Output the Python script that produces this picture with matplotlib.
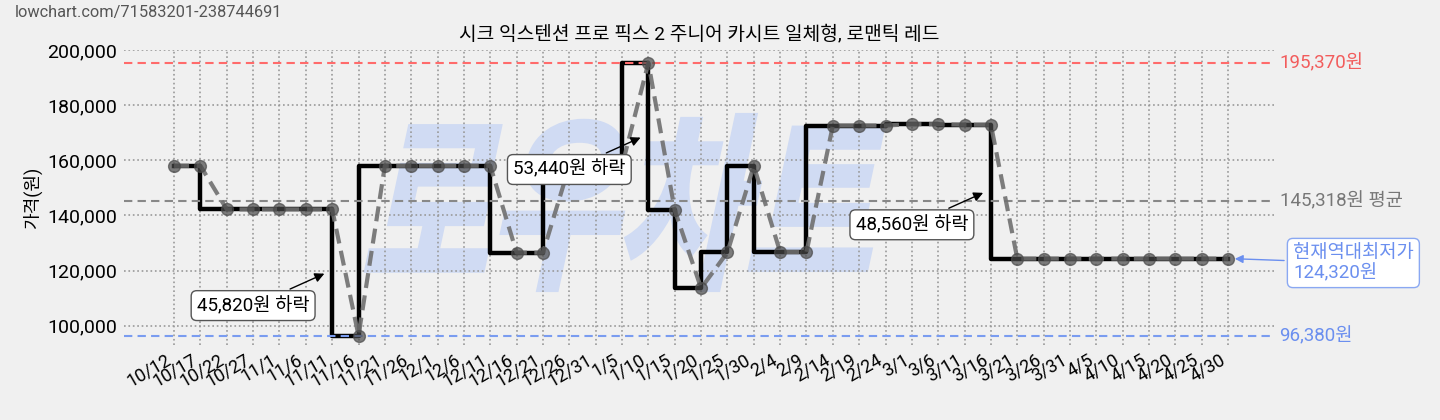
import matplotlib
matplotlib.use("Agg")
import matplotlib.pyplot as plt
import numpy as np
from matplotlib.textpath import TextPath
from matplotlib.patches import PathPatch
from matplotlib.font_manager import FontProperties
from matplotlib.transforms import Affine2D, IdentityTransform

plt.rcParams['font.family'] = ['Roboto', 'Noto Sans CJK KR', 'DejaVu Sans']

# Data
dates = ["10/12", "10/17", "10/22", "10/27", "11/1", "11/6", "11/11", "11/16", "11/21", "11/26",
         "12/1", "12/6", "12/11", "12/16", "12/21", "12/26", "12/31", "1/5", "1/10", "1/15",
         "1/20", "1/25", "1/30", "2/4", "2/9", "2/14", "2/19", "2/24", "3/1", "3/6",
         "3/11", "3/16", "3/21", "3/26", "3/31", "4/5", "4/10", "4/15", "4/20", "4/25", "4/30"]
prices = [158000, 158000, 142200, 142200, 142200, 142200, 142200, 96380, 158000, 158000,
          158000, 158000, 158000, 126500, 126500, 158000, 158000, 158000, 195370, 141930,
          113600, 126600, 158000, 126700, 126700, 172600, 172600, 172600, 173100, 173100,
          172900, 172880, 124320, 124320, 124320, 124320, 124320, 124320, 124320, 124320, 124320]
max_price = 195370
min_price = 96380
avg_price = 145318
cur_price = 124320
drops = [(6, 45820), (18, 53440), (31, 48560)]  # index of drop start, amount

x = np.arange(len(dates))

fig = plt.figure(figsize=(14.4, 4.2), dpi=100, facecolor="#f0f0f0")
ax = fig.add_axes([124/1440, 75/420, 1151/1440, 295/420])
ax.set_facecolor("#f0f0f0")

# watermark (slanted logo text, drawn in figure pixels)
tp = TextPath((0, 0), "로우차트", size=100,
              prop=FontProperties(family="Noto Sans CJK KR", weight="heavy"))
ext = tp.get_extents()
wm_tr = (Affine2D().translate(-ext.x0, -ext.y0)
         .scale(500 / ext.width, 175 / ext.height)
         .skew_deg(12, 0)
         .translate(362, 130))
ax.add_patch(PathPatch(wm_tr.transform_path(tp), transform=IdentityTransform(),
                       fc="#d0dbf3", ec="#d0dbf3", lw=3, zorder=0, clip_on=False))

# price lines
ax.plot(x, prices, drawstyle="steps-pre", color="black", lw=3.2, zorder=2)
ax.plot(x, prices, color="#707070", lw=3, linestyle=(0, (3.6, 1.8)), alpha=0.9, zorder=4)
ax.plot(x, prices, "o", color="#4a4a4a", ms=8.5, alpha=0.7, zorder=5)

# reference lines
ax.axhline(max_price, color="#ff6b6b", lw=1.5, ls=(0, (4, 2.5)), zorder=3)
ax.axhline(avg_price, color="#888888", lw=1.5, ls=(0, (4, 2.5)), zorder=3)
ax.axhline(min_price, color="#7a9cf0", lw=1.5, ls=(0, (4, 2.5)), zorder=3)

trans = ax.get_yaxis_transform()
ax.text(1.004, max_price, f"{max_price:,}원", transform=trans, color="#f25c5c",
        fontsize=13.5, va="center")
ax.text(1.004, avg_price, f"{avg_price:,}원 평균", transform=trans, color="#777777",
        fontsize=13.5, va="center")
ax.text(1.004, min_price, f"{min_price:,}원", transform=trans, color="#6b8fef",
        fontsize=13.5, va="center")

# drop annotations
for i, amt in drops:
    mid = (prices[i] + prices[i + 1]) / 2
    ax.annotate(f"{amt:,}원 하락", xy=(i - 0.2, mid), xytext=(i - 3.0, mid - 12000),
                fontsize=13.5, ha="center", va="center", zorder=6,
                bbox=dict(boxstyle="round,pad=0.3", fc="white", ec="#555555", lw=1),
                arrowprops=dict(arrowstyle="-|>", color="black", lw=1, mutation_scale=14))

# current lowest
ax.annotate(f"현재역대최저가\n{cur_price:,}원", xy=(len(x) - 1 + 0.15, cur_price),
            xytext=(1293, 420 - 263), textcoords="figure pixels",
            fontsize=13.5, color="#6b8fef", ha="left", va="center", zorder=6,
            annotation_clip=False, linespacing=1.1,
            bbox=dict(boxstyle="round,pad=0.3", fc="white", ec="#8aa8f2", lw=1),
            arrowprops=dict(arrowstyle="-|>", color="#6b8fef", lw=1, mutation_scale=12))

ax.set_xlim(-1.9, 41.78)
ax.set_ylim(93000, 200000)
ax.set_xticks(x)
ax.set_xticklabels(dates, rotation=30, ha="right", fontsize=13)
ax.set_yticks(range(100000, 200001, 20000))
ax.yaxis.set_major_formatter(matplotlib.ticker.FuncFormatter(lambda v, p: f"{int(v):,}"))
ax.tick_params(axis="y", labelsize=14, length=0, pad=5)
ax.tick_params(axis="x", length=0, pad=4)
ax.grid(True, color="#999999", ls=":", lw=1.2)
for s in ax.spines.values():
    s.set_visible(False)

ax.set_ylabel("가격(원)", fontsize=13)
ax.set_title("시크 익스텐션 프로 픽스 2 주니어 카시트 일체형, 로맨틱 레드", fontsize=13.8, pad=8)
fig.text(15/1440, 1 - 12/420, "lowchart.com/71583201-238744691", fontsize=11.8,
         color="#555555", va="center")

plt.savefig("out.png", dpi=100, facecolor=fig.get_facecolor())
